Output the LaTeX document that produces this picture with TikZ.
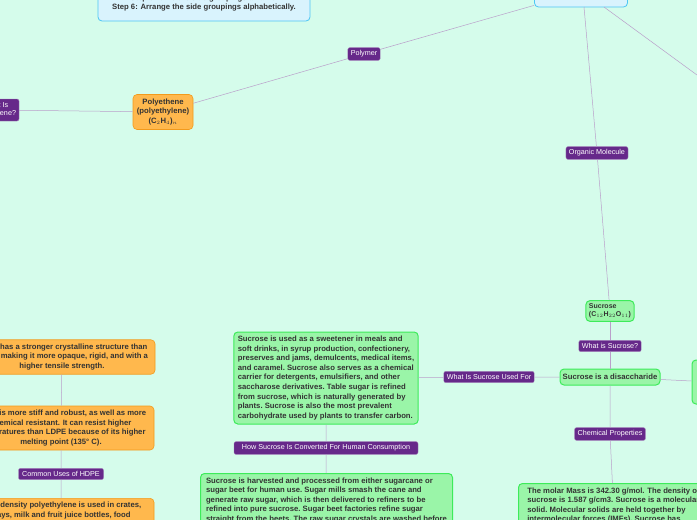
\documentclass[tikz,border=0pt]{standalone}
\usepackage{fontspec}
\setmainfont{Liberation Sans}
\begin{document}
\begin{tikzpicture}[x=1pt,y=-1pt,
  lab/.style={fill=pur,text=white,rounded corners=2pt,draw=pur!60!white,font=\fontsize{7.2}{8}\selectfont,inner sep=3pt},
  gbox/.style={fill=gfill,draw=gline,line width=1pt,rounded corners=4pt,font=\bfseries\fontsize{7.7}{9.6}\selectfont,text=black!80,inner sep=4pt},
  obox/.style={fill=ofill,draw=oline,line width=0.6pt,rounded corners=4pt,font=\bfseries\fontsize{7.7}{9.6}\selectfont,text=black!80,inner sep=4pt,align=center},
  cbox/.style={fill=cyan!15,draw=cyan!70,line width=0.8pt,rounded corners=4pt,font=\bfseries\fontsize{7.7}{9.4}\selectfont,text=black!80,align=center},
  ln/.style={draw=pur!45!white,line width=0.5pt}]
\definecolor{pur}{HTML}{66298A}
\definecolor{bg}{HTML}{D5FCEB}
\definecolor{gfill}{HTML}{9AF5A8}
\definecolor{gline}{HTML}{3DEB5A}
\definecolor{ofill}{HTML}{FFB84D}
\definecolor{oline}{HTML}{F29A1C}
\useasboundingbox (0,0) rectangle (697,520);
\fill[bg] (0,0) rectangle (697,520);
\begin{scope}
\clip (0,0) rectangle (697,520);
% nodes
\node[cbox,minimum width=212,minimum height=40] (steps) at (204,1) {\\Step 5: Give the side groupings a name.\\[-1pt]Step 6: Arrange the side groupings alphabetically.};
\node[cbox,minimum width=93,minimum height=30] (top) at (581,-8) {};
\node[lab] (polymer) at (364,54) {Polymer};
\node[obox,minimum width=60,minimum height=35,inner sep=2pt] (pe) at (163,112) {Polyethene\\(polyethylene)\\(C$_2$H$_4$)$_n$};
\node[lab,align=center,minimum height=22] (whatpe) at (-4,110) {What Is\\Polyethene?};
\node[lab] (org) at (597,153) {Organic Molecule};
\node[gbox,font=\bfseries\fontsize{7}{8.4}\selectfont,align=left,minimum width=48,inner sep=3pt] (suc) at (610,311) {Sucrose\\(C$_{12}$H$_{22}$O$_{11}$)};
\node[lab] (whatsuc) at (610,346) {What is Sucrose?};
\node[gbox,minimum width=100,minimum height=16,inner sep=2pt] (dis) at (610,377) {Sucrose is a disaccharide};
\node[gbox,minimum width=40,minimum height=44] (right) at (712,382) {};
\node[lab] (usedfor) at (489,377) {What Is Sucrose Used For};
\node[gbox,align=left,minimum width=184,minimum height=92] (used) at (326,378) {Sucrose is used as a sweetener in meals and\\soft drinks, in syrup production, confectionery,\\preserves and jams, demulcents, medical items,\\and caramel.\ Sucrose also serves as a chemical\\carrier for detergents, emulsifiers, and other\\saccharose derivatives.\ Table sugar is refined\\from sucrose, which is naturally generated by\\plants.\ Sucrose is also the most prevalent\\carbohydrate used by plants to transfer carbon.};
\node[lab,minimum width=184] (how) at (326,448) {How Sucrose Is Converted For Human Consumption};
\node[gbox,align=left,anchor=north west,minimum width=252] (harv) at (200,473) {Sucrose is harvested and processed from either sugarcane or\\sugar beet for human use.\ Sugar mills smash the cane and\\generate raw sugar, which is then delivered to refiners to be\\refined into pure sucrose.\ Sugar beet factories refine sugar\\straight from the beets.\ The raw sugar crystals are washed before};
\node[lab] (chem) at (610,434) {Chemical Properties};
\node[gbox,align=left,anchor=north west,minimum width=190] (molar) at (518,483) {The molar Mass is 342.30 g/mol. The density of\\sucrose is 1.587 g/cm3.\ Sucrose is a molecular\\solid.\ Molecular solids are held together by\\intermolecular forces (IMFs).\ Sucrose has};
\node[obox,minimum width=186,minimum height=34] (hd1) at (62,357) {HDPE has a stronger crystalline structure than\\LDPE, making it more opaque, rigid, and with a\\higher tensile strength.};
\node[obox,minimum width=186,minimum height=44] (hd2) at (61,428) {HDPE is more stiff and robust, as well as more\\chemical resistant. It can resist higher\\temperatures than LDPE because of its higher\\melting point (135° C).};
\node[lab,minimum width=85] (uses) at (61,474) {Common Uses of HDPE};
\node[obox,anchor=north,minimum width=186] (hd3) at (61,498) {High-density polyethylene is used in crates,\\trays, milk and fruit juice bottles, food\\containers, and many other things.};
\coordinate (edge) at (697,75);
\coordinate (t1) at (584,7);
\coordinate (t2) at (604,7);
% connectors
\draw[ln] (top) -- (polymer) -- (pe);
\draw[ln] (pe) -- (whatpe);
\draw[ln] (t1) -- (org);
\draw[ln] (org) -- (suc);
\draw[ln] (t2) -- (edge);
\draw[ln] (suc) -- (whatsuc) -- (dis);
\draw[ln] (dis) -- (right);
\draw[ln] (dis) -- (usedfor) -- (used);
\draw[ln] (used) -- (how) -- (harv);
\draw[ln] (dis) -- (chem) -- (molar);
\draw[ln] (hd1) -- (hd2) -- (uses) -- (hd3);
\end{scope}
\end{tikzpicture}
\end{document}
